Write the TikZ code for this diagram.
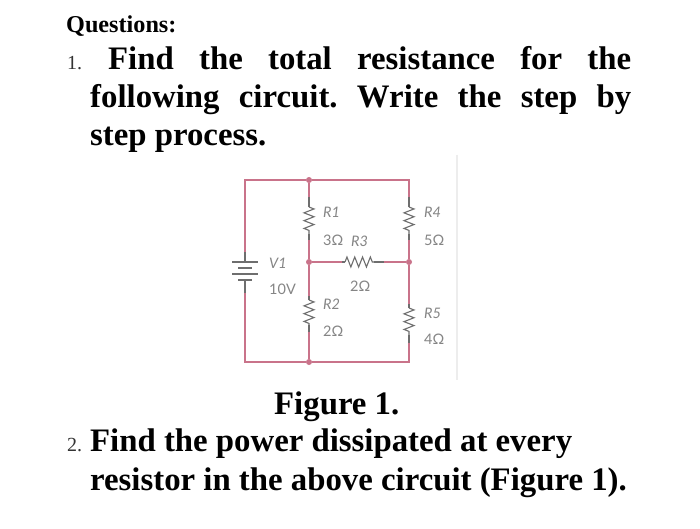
\documentclass[tikz,border=0pt]{standalone}
\usepackage{fontspec}
\setmainfont{Liberation Serif}
\newfontfamily\circuitfont{Lato}
\usetikzlibrary{decorations.pathmorphing}
\tikzset{
  x=1pt,y=-1pt,
  wire/.style={draw=wirepink,line width=1.4pt},
  lead/.style={draw=leadgray,line width=1.1pt},
  zig/.style={draw=leadgray,line width=1.1pt,decorate,decoration={zigzag,amplitude=5pt,segment length=7.8pt}},
  plate/.style={draw=leadgray,line width=1.1pt},
  junction/.style={circle,fill=wirepink,inner sep=0pt,minimum size=6pt},
  label/.style={font=\circuitfont\fontsize{14.5}{16}\selectfont,text=labelgray,inner sep=0pt,anchor=base west},
  head/.style={font=\fontsize{24.2}{28}\selectfont\bfseries,inner sep=0pt,anchor=base west},
  body/.style={font=\fontsize{32.8}{38}\selectfont\bfseries,inner sep=0pt,anchor=base west},
  num/.style={font=\fontsize{20}{24}\selectfont,text=black!80,inner sep=0pt,anchor=base west}
}
\definecolor{wirepink}{HTML}{C9738A}
\definecolor{leadgray}{HTML}{6E6E6E}
\definecolor{labelgray}{HTML}{858585}
\begin{document}
\begin{tikzpicture}
\useasboundingbox (0,0) rectangle (700,529);
\fill[white] (0,0) rectangle (700,529);
\draw[black!7,line width=1.5pt] (457,155) -- (457,380);

\node[head] (q) at (66,33) {Questions:};
\node[num] (n1) at (67,70) {1.};
\node[body] (l1) at (108,70) {\hbox to 523pt{Find\hfill the\hfill total\hfill resistance\hfill for\hfill the}};
\node[body] (l2) at (90,108) {\hbox to 541pt{following\hfill circuit.\hfill Write\hfill the\hfill step\hfill by}};
\node[body] (l3) at (90,146) {step process.};
\node[body] (fig) at (274,414) {Figure 1.};
\node[num] (n2) at (67,451) {2.};
\node[body] (l4) at (90,451) {Find the power dissipated at every};
\node[body] (l5) at (90,490) {resistor in the above circuit (Figure 1).};

\node[junction] (top) at (309,180) {};
\node[junction] (mid) at (309,262) {};
\node[junction] (rmid) at (409,262) {};
\node[junction] (bot) at (309,362) {};
\coordinate (tl) at (245,180);
\coordinate (tr) at (409,180);
\coordinate (bl) at (245,362);
\coordinate (br) at (409,362);
\coordinate (bat1) at (245,262);
\coordinate (bat2) at (245,280);
\coordinate (batw1) at (245,252);
\coordinate (batw2) at (245,293);

\coordinate (r1a) at (309,197); \coordinate (r1b) at (309,207);
\coordinate (r1c) at (309,234); \coordinate (r1d) at (309,240);
\coordinate (r2a) at (309,296); \coordinate (r2b) at (309,300);
\coordinate (r2c) at (309,325); \coordinate (r2d) at (309,332);
\coordinate (r3a) at (342,262); \coordinate (r3b) at (345,262);
\coordinate (r3c) at (374,262); \coordinate (r3d) at (384,262);
\coordinate (r4a) at (409,197); \coordinate (r4b) at (409,207);
\coordinate (r4c) at (409,234); \coordinate (r4d) at (409,240);
\coordinate (r5a) at (409,304); \coordinate (r5b) at (409,308);
\coordinate (r5c) at (409,335); \coordinate (r5d) at (409,343);

\draw[wire] (batw1) -- (tl) -- (top) -- (tr) -- (r4a);
\draw[wire] (top) -- (r1a);
\draw[wire] (r1d) -- (mid);
\draw[wire] (mid) -- (r3a);
\draw[wire] (r3d) -- (rmid);
\draw[wire] (mid) -- (r2a);
\draw[wire] (r2d) -- (bot);
\draw[wire] (r4d) -- (rmid);
\draw[wire] (rmid) -- (r5a);
\draw[wire] (r5d) -- (br) -- (bot) -- (bl) -- (batw2);

\draw[lead] (batw1) -- (bat1);
\draw[lead] (bat2) -- (batw2);
\foreach \n in {1,2,3,4,5}{
  \draw[lead] (r\n a) -- (r\n b);
  \draw[zig] (r\n b) -- (r\n c);
  \draw[lead] (r\n c) -- (r\n d);
}
\draw[plate] (232,262) -- (258,262);
\draw[plate] (238,268) -- (252,268);
\draw[plate] (232,274) -- (258,274);
\draw[plate] (238,280) -- (252,280);

\node[label] (t1) at (323,218) {\itshape R1};
\node[label] (t2) at (323,245) {3Ω};
\node[label] (t3) at (351,246) {\itshape R3};
\node[label] (t4) at (350,291) {2Ω};
\node[label] (t5) at (269,268) {\itshape V1};
\node[label] (t6) at (269,294) {10V};
\node[label] (t7) at (323,309) {\itshape R2};
\node[label] (t8) at (323,336) {2Ω};
\node[label] (t9) at (424,218) {\itshape R4};
\node[label] (t10) at (424,245) {5Ω};
\node[label] (t11) at (424,318) {\itshape R5};
\node[label] (t12) at (424,344) {4Ω};
\end{tikzpicture}
\end{document}
